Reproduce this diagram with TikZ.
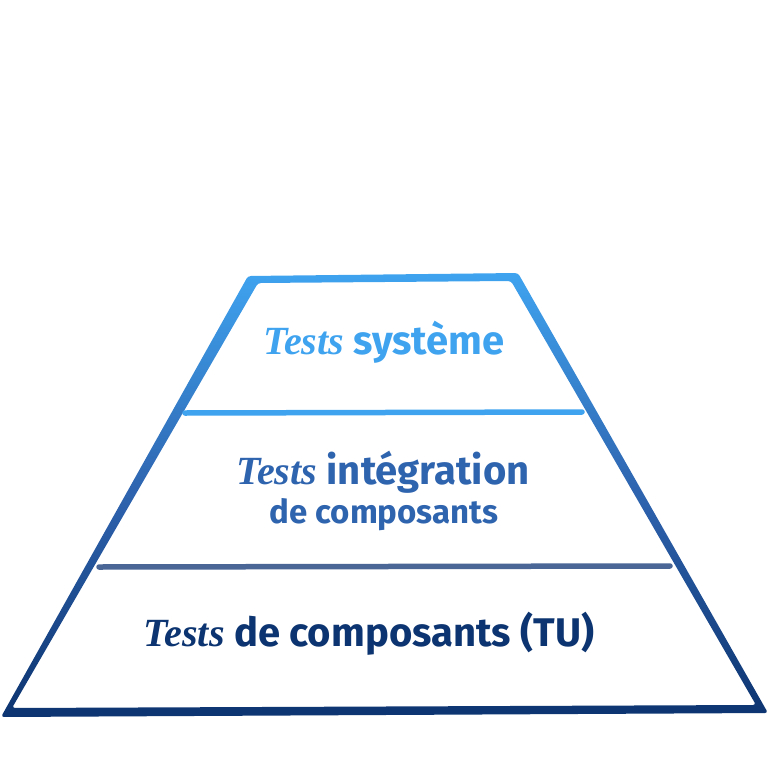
\documentclass[tikz,border=0pt]{standalone}
\usepackage{fontspec}
\setmainfont{Fira Sans}
\newfontfamily\brushfont{Liberation Serif}
\definecolor{pyrlight}{HTML}{3FA3EF}
\definecolor{pyrmid}{HTML}{2E63AE}
\definecolor{pyrgrey}{HTML}{4A6696}
\definecolor{pyrdark}{HTML}{0C3470}
\tikzset{
  tier/.style={font=\bfseries\fontsize{40}{44}\selectfont, anchor=base},
  subtier/.style={font=\bfseries\fontsize{33}{36}\selectfont, anchor=base},
}
\newcommand{\tests}{{\brushfont\bfseries\itshape Tests}}

\begin{document}
\begin{tikzpicture}[x=1pt, y=-1pt, line cap=round, line join=round]
      \useasboundingbox (0,0) rectangle (768,768);

      % outline of the pyramid, shaded from top to bottom
      \shade [top color=pyrlight, bottom color=pyrdark, middle color=pyrmid, even odd rule, rounded corners=3pt]
        (248,276) -- (518,273) -- (768,713) -- (1,717) -- cycle
        (258,283) -- (511,281) -- (756,705) -- (12,708) -- cycle;

      % separations between the levels
      \draw [pyrlight, line width=5.5pt] (185,413) -- (582,412);
      \draw [pyrgrey, line width=5.5pt] (99,567) -- (670,566);

      \node [tier, text=pyrlight] (systeme) at (384,354) {\tests{} système};
      \node [tier, text=pyrmid] (integration) at (383,484) {\tests{} intégration};
      \node [subtier, text=pyrmid] (composants) at (384,523) {de composants};
      \node [tier, text=pyrdark] (unitaires) at (369,646) {\tests{} de composants (TU)};
    \end{tikzpicture}
\end{document}
